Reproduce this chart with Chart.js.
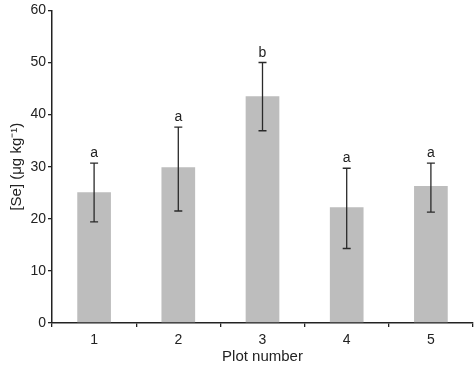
<!DOCTYPE html>
<html><head><meta charset="utf-8">
<script src="https://cdn.jsdelivr.net/npm/chart.js@4"></script>
<style>html,body{margin:0;padding:0;background:#fff}#w{width:474px;height:367px}</style>
</head><body><div id="w"><canvas id="c"></canvas></div>
<script>
const categories = ['1','2','3','4','5'];
const seValues = [25.1, 29.9, 43.5, 22.2, 26.3];
const errLow = [19.4, 21.5, 36.9, 14.3, 21.3];
const errHigh = [30.7, 37.6, 50.0, 29.7, 30.7];
const letters = ['a','a','b','a','a'];
const yTicks = [0,10,20,30,40,50,60];

const FONT = '"Liberation Sans", Arial, Helvetica, sans-serif';

const errPlugin = {
  id: 'errbars',
  afterDatasetsDraw(chart) {
    const ctx = chart.ctx, x = chart.scales.x, y = chart.scales.y;
    ctx.save();
    ctx.strokeStyle = '#2a2a2a';
    ctx.lineWidth = 1.3;
    ctx.fillStyle = '#222';
    ctx.font = '14px ' + FONT;
    ctx.textAlign = 'center';
    ctx.textBaseline = 'alphabetic';
    categories.forEach((c, i) => {
      const cx = x.getPixelForValue(i);
      const yt = y.getPixelForValue(errHigh[i]);
      const yb = y.getPixelForValue(errLow[i]);
      ctx.beginPath();
      ctx.moveTo(cx, yt); ctx.lineTo(cx, yb);
      ctx.moveTo(cx - 4, yt); ctx.lineTo(cx + 4, yt);
      ctx.moveTo(cx - 4, yb); ctx.lineTo(cx + 4, yb);
      ctx.stroke();
      ctx.fillText(letters[i], cx, yt - 6);
    });
    ctx.restore();
  }
};

new Chart(document.getElementById('c'), {
  type: 'bar',
  data: {
    labels: categories,
    datasets: [{
      data: seValues,
      backgroundColor: '#bdbdbd',
      borderWidth: 0,
      barPercentage: 0.4,
      categoryPercentage: 1.0
    }]
  },
  options: {
    responsive: true,
    maintainAspectRatio: false,
    animation: false,
    events: [],
    layout: { padding: { top: 0, right: 1, left: 0, bottom: 0 } },
    plugins: { legend: { display: false }, tooltip: { enabled: false } },
    scales: {
      x: {
        grid: { offset: true, drawOnChartArea: false, drawTicks: true, tickLength: 4, color: '#222', lineWidth: 1.3 },
        border: { color: '#222', width: 1.5 },
        ticks: { color: '#222', font: { size: 14, family: FONT }, padding: 5 },
        title: { display: true, text: 'Plot number', color: '#222', font: { size: 15, family: FONT }, padding: { top: 0, bottom: 1 } },
        afterFit(s) { s.height = 44; }
      },
      y: {
        min: 0, max: 60,
        afterBuildTicks(s) { s.ticks = yTicks.map(v => ({ value: v })); },
        grid: { drawOnChartArea: false, drawTicks: true, tickLength: 4, color: '#222', lineWidth: 1.3 },
        border: { color: '#222', width: 1.5 },
        ticks: { color: '#222', font: { size: 14, family: FONT }, padding: 2 },
        title: { display: true, text: '[Se] (μg kg⁻¹)', color: '#222', font: { size: 15, family: FONT }, padding: { top: 8, bottom: 4 } },
        afterFit(s) { s.width = 52; }
      }
    }
  },
  plugins: [errPlugin]
});
</script>
</body></html>
